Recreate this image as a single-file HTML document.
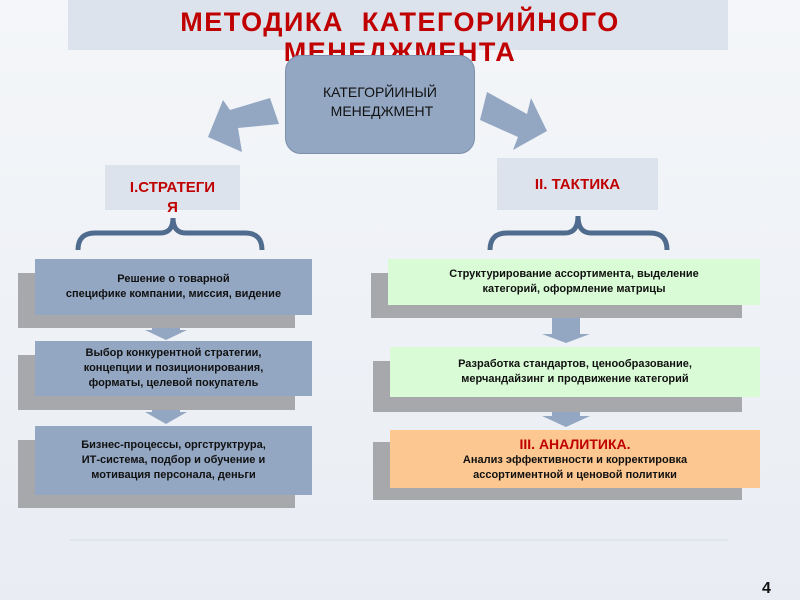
<!DOCTYPE html>
<html><head><meta charset="utf-8"><style>
*{margin:0;padding:0;box-sizing:border-box}
body{width:800px;height:600px;overflow:hidden;background:linear-gradient(#f4f6f9,#e9edf3);font-family:"Liberation Sans","DejaVu Sans",sans-serif;position:relative}
.a{position:absolute}
.t{display:flex;align-items:center;justify-content:center;text-align:center;font-weight:bold;font-size:11px;line-height:15px;color:#111}
.sh{background:#a6a8ab}
.bl{background:#93a7c3}
.gr{background:#d9fbd6}
.or{background:#fcc791}
</style></head><body>
<div class="a" style="left:68px;top:0;width:660px;height:50px;background:#dde3ec"></div>
<div class="a" style="left:0;top:7px;width:800px;text-align:center;color:#c00000;font-weight:bold;font-size:27px;line-height:30px;letter-spacing:1.5px">МЕТОДИКА &nbsp;КАТЕГОРИЙНОГО<br>МЕНЕДЖМЕНТА</div>
<div class="a" style="left:285px;top:55px;width:190px;height:99px;background:#93a7c3;border-radius:16px;border:1px solid #7d8faa"></div>
<div class="a" style="left:285px;top:83px;width:190px;text-align:center;font-size:14px;line-height:19px;color:#111">КАТЕГОРЙИНЫЙ<br>&nbsp;МЕНЕДЖМЕНТ</div>
<svg class="a" style="left:0;top:0" width="800" height="600">
<polygon points="270,98 279,124 238,128 242,152 208,137 223,100 230,110" fill="#93a7c3"/>
<polygon points="487,92 480,120 518,137 513,150 547,131 531,98 527,114" fill="#93a7c3"/>
<path d="M78,250 Q78,233 95,233 L160,233 Q173,233 173,218 Q173,233 186,233 L245,233 Q262,233 262,250" fill="none" stroke="#4f6b8d" stroke-width="5"/>
<path d="M490,250 Q490,233 507,233 L565,233 Q578,233 578,216 Q578,233 591,233 L650,233 Q667,233 667,250" fill="none" stroke="#4f6b8d" stroke-width="5"/>
<g fill="#93a7c3">
<rect x="152" y="316" width="28" height="14"/><polygon points="145,330 187,330 166,340"/>
<rect x="152" y="396" width="28" height="16"/><polygon points="145,412 187,412 166,424"/>
<rect x="552" y="316" width="28" height="18"/><polygon points="542,334 590,334 566,343"/>
<rect x="552" y="405" width="28" height="11"/><polygon points="542,416 590,416 566,427"/>
</g>
<line x1="70" y1="540" x2="728" y2="540" stroke="#dde1e8" stroke-width="1.5"/>
</svg>
<div class="a t" style="left:105px;top:165px;width:135px;height:45px;background:#dde3ec;color:#c00000;font-size:15px;line-height:20px;align-items:flex-start;padding-top:13px">I.СТРАТЕГИ<br>Я</div>
<div class="a t" style="left:497px;top:158px;width:161px;height:52px;background:#dde3ec;color:#c00000;font-size:15px">II. ТАКТИКА</div>

<div class="a sh" style="left:18px;top:273px;width:277px;height:55px"></div>
<div class="a t bl" style="left:35px;top:259px;width:277px;height:56px">Решение о товарной<br>специфике компании, миссия, видение</div>
<div class="a sh" style="left:18px;top:355px;width:277px;height:55px"></div>
<div class="a t bl" style="left:35px;top:341px;width:277px;height:55px">Выбор конкурентной стратегии,<br>концепции и позиционирования,<br>форматы, целевой покупатель</div>
<div class="a sh" style="left:18px;top:440px;width:277px;height:68px"></div>
<div class="a t bl" style="left:35px;top:426px;width:277px;height:69px">Бизнес-процессы, оргструктрура,<br>ИТ-система, подбор и обучение и<br>мотивация персонала, деньги</div>

<div class="a sh" style="left:371px;top:273px;width:371px;height:45px"></div>
<div class="a t gr" style="left:388px;top:259px;width:372px;height:46px">Структурирование ассортимента, выделение<br>категорий, оформление матрицы</div>
<div class="a sh" style="left:373px;top:361px;width:369px;height:51px"></div>
<div class="a t gr" style="left:390px;top:347px;width:370px;height:50px">Разработка стандартов, ценообразование,<br>мерчандайзинг и продвижение категорий</div>
<div class="a sh" style="left:373px;top:442px;width:369px;height:58px"></div>
<div class="a t or" style="left:390px;top:430px;width:370px;height:58px;flex-direction:column"><span style="color:#c00000;font-size:14px;line-height:18px">III. АНАЛИТИКА.</span>Анализ эффективности и корректировка<br>ассортиментной и ценовой политики</div>

<div class="a" style="left:762px;top:580px;font-weight:bold;font-size:16px;color:#111">4</div>
</body></html>
